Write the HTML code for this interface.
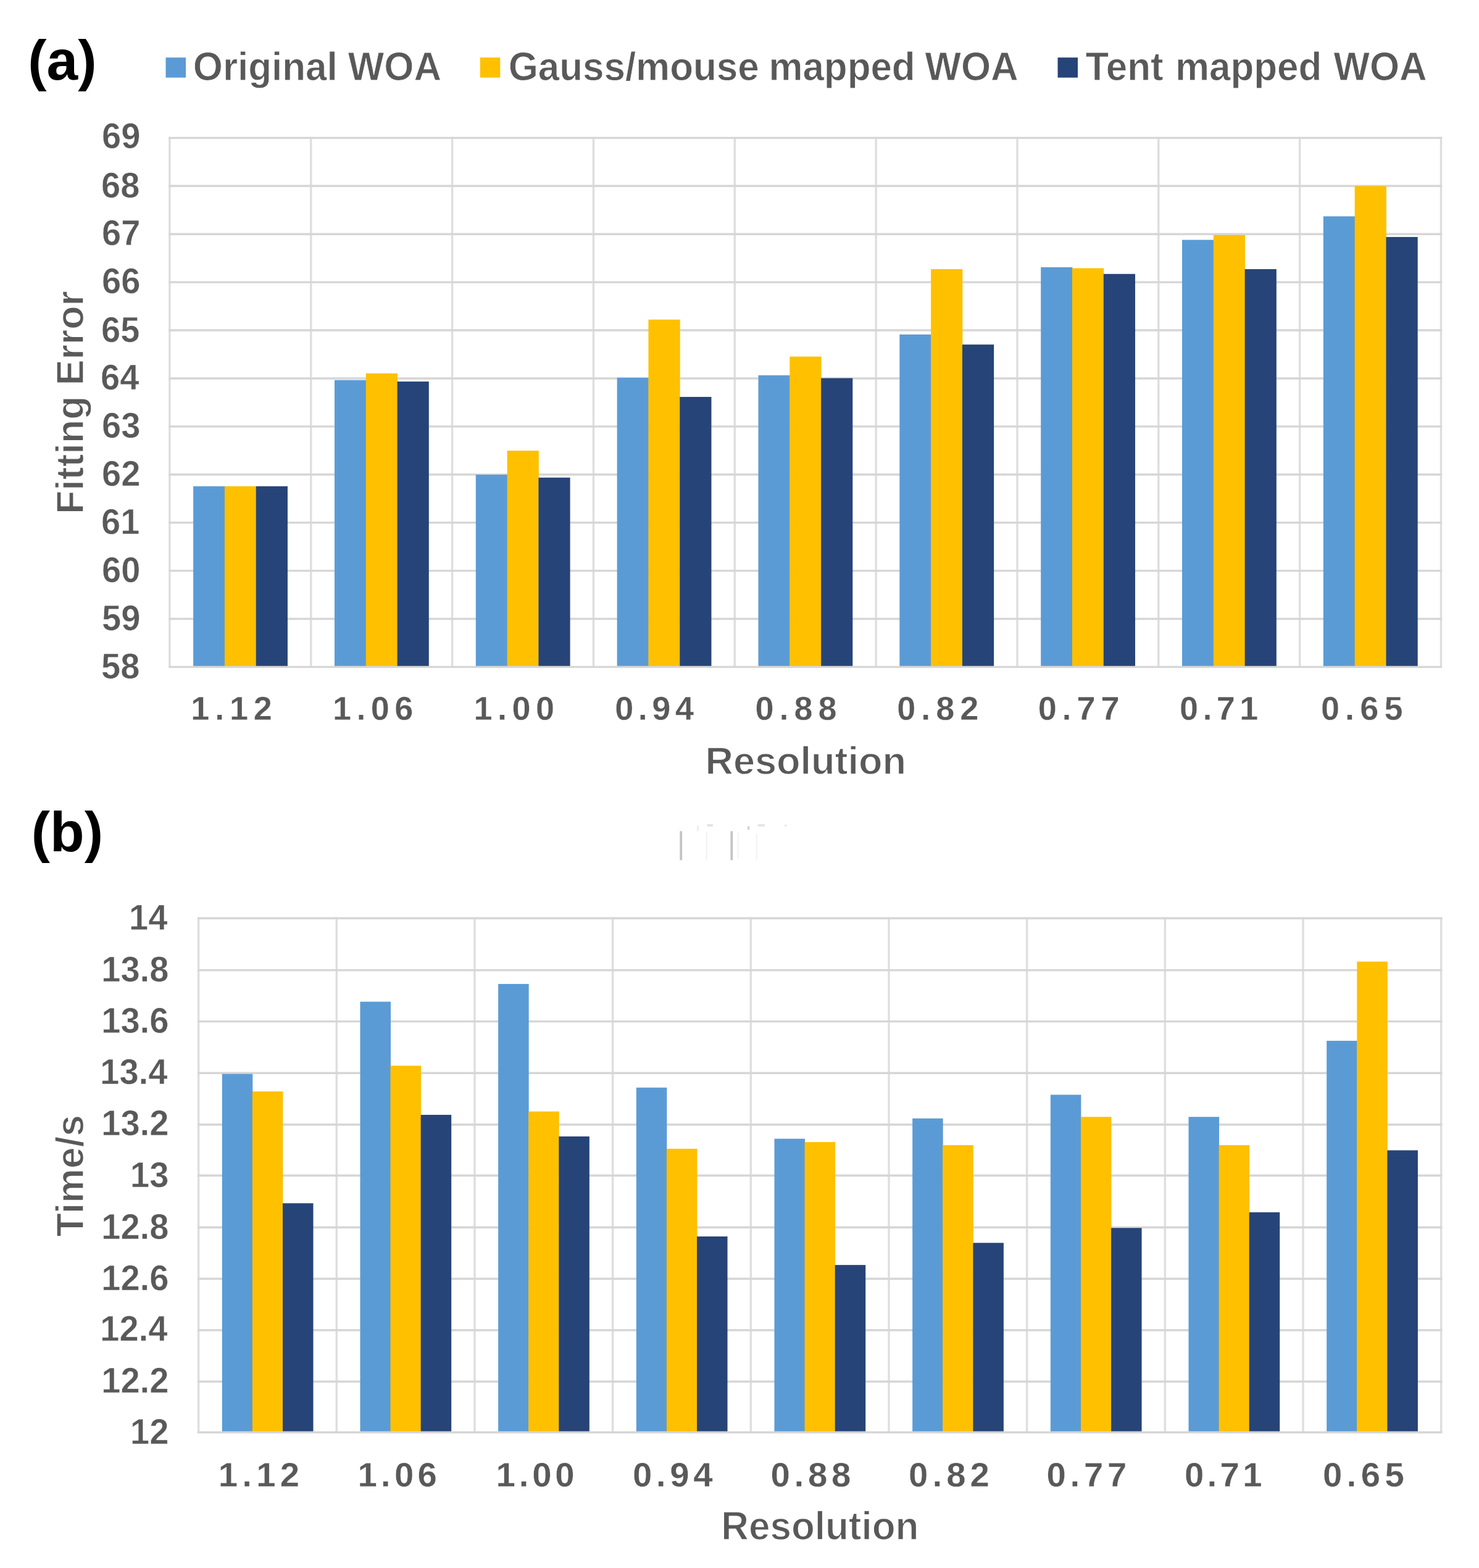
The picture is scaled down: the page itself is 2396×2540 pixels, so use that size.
<!DOCTYPE html>
<html><head><meta charset="utf-8"><style>
html,body{margin:0;padding:0;background:#fff;}
body{width:2396px;height:2540px;overflow:hidden;}
svg{display:block;}
text{font-family:"Liberation Sans",Arial,sans-serif;font-weight:bold;}
.er text{stroke:#fff;stroke-linejoin:round;}
.e1 text{stroke-width:1.3px;}.e2 text{stroke-width:0.8px;}.e3 text{stroke-width:0.5px;}.e4 text{stroke-width:0.3px;}
</style></head><body>
<svg width="2396" height="2540" viewBox="0 0 2396 2540">
<rect width="2396" height="2540" fill="#fff"/>
<text x="45.3" y="129" font-size="91" fill="#000">(a)</text>
<text x="50.8" y="1379.2" font-size="91" fill="#000">(b)</text>
<g>
<rect x="268.5" y="93.2" width="32.5" height="32.5" fill="#5B9BD5"/>
<rect x="777.8" y="93.2" width="32.5" height="32.5" fill="#FFC000"/>
<rect x="1713.5" y="93.2" width="32.5" height="32.5" fill="#264478"/>
<g class="er e2" font-size="61.9" fill="#595959">
<text transform="translate(312.8,129.6) scale(1,1.04)">Original WOA</text>
<text transform="translate(823.7,129.6) scale(1,1.04)" word-spacing="-1.4">Gauss/mouse mapped WOA</text>
<text transform="translate(1758.6,129.6) scale(1,1.04)" word-spacing="2.1">Tent mapped WOA</text>
</g>
</g>
<g stroke="#DEDEDE" stroke-width="3.4"><line x1="274.9" y1="221.7" x2="274.9" y2="1080.4"/><line x1="503.74" y1="221.7" x2="503.74" y2="1080.4"/><line x1="732.59" y1="221.7" x2="732.59" y2="1080.4"/><line x1="961.43" y1="221.7" x2="961.43" y2="1080.4"/><line x1="1190.28" y1="221.7" x2="1190.28" y2="1080.4"/><line x1="1419.12" y1="221.7" x2="1419.12" y2="1080.4"/><line x1="1647.97" y1="221.7" x2="1647.97" y2="1080.4"/><line x1="1876.81" y1="221.7" x2="1876.81" y2="1080.4"/><line x1="2105.66" y1="221.7" x2="2105.66" y2="1080.4"/><line x1="2334.5" y1="221.7" x2="2334.5" y2="1080.4"/></g><g stroke="#D6D6D6" stroke-width="3.4"><line x1="273.2" y1="1002.49" x2="2336.2" y2="1002.49"/><line x1="273.2" y1="924.58" x2="2336.2" y2="924.58"/><line x1="273.2" y1="846.67" x2="2336.2" y2="846.67"/><line x1="273.2" y1="768.76" x2="2336.2" y2="768.76"/><line x1="273.2" y1="690.85" x2="2336.2" y2="690.85"/><line x1="273.2" y1="612.95" x2="2336.2" y2="612.95"/><line x1="273.2" y1="535.04" x2="2336.2" y2="535.04"/><line x1="273.2" y1="457.13" x2="2336.2" y2="457.13"/><line x1="273.2" y1="379.22" x2="2336.2" y2="379.22"/><line x1="273.2" y1="301.31" x2="2336.2" y2="301.31"/><line x1="273.2" y1="223.4" x2="2336.2" y2="223.4"/></g><rect x="313.12" y="787.65" width="51.2" height="292.75" fill="#5B9BD5"/><rect x="363.92" y="787.65" width="51.2" height="292.75" fill="#FFC000"/><rect x="414.72" y="787.65" width="51.2" height="292.75" fill="#264478"/><rect x="541.97" y="615.71" width="51.2" height="464.69" fill="#5B9BD5"/><rect x="592.77" y="604.82" width="51.2" height="475.58" fill="#FFC000"/><rect x="643.57" y="618.05" width="51.2" height="462.35" fill="#264478"/><rect x="770.81" y="768.98" width="51.2" height="311.42" fill="#5B9BD5"/><rect x="821.61" y="730.08" width="51.2" height="350.32" fill="#FFC000"/><rect x="872.41" y="773.65" width="51.2" height="306.75" fill="#264478"/><rect x="999.66" y="611.82" width="51.2" height="468.58" fill="#5B9BD5"/><rect x="1050.46" y="517.68" width="51.2" height="562.72" fill="#FFC000"/><rect x="1101.26" y="642.94" width="51.2" height="437.46" fill="#264478"/><rect x="1228.5" y="607.93" width="51.2" height="472.47" fill="#5B9BD5"/><rect x="1279.3" y="577.59" width="51.2" height="502.81" fill="#FFC000"/><rect x="1330.1" y="612.6" width="51.2" height="467.8" fill="#264478"/><rect x="1457.34" y="541.8" width="51.2" height="538.6" fill="#5B9BD5"/><rect x="1508.14" y="435.99" width="51.2" height="644.41" fill="#FFC000"/><rect x="1558.94" y="558.14" width="51.2" height="522.26" fill="#264478"/><rect x="1686.19" y="432.88" width="51.2" height="647.52" fill="#5B9BD5"/><rect x="1736.99" y="434.44" width="51.2" height="645.96" fill="#FFC000"/><rect x="1787.79" y="443.77" width="51.2" height="636.63" fill="#264478"/><rect x="1915.03" y="388.54" width="51.2" height="691.86" fill="#5B9BD5"/><rect x="1965.83" y="380.76" width="51.2" height="699.64" fill="#FFC000"/><rect x="2016.63" y="435.99" width="51.2" height="644.41" fill="#264478"/><rect x="2143.88" y="350.41" width="51.2" height="729.99" fill="#5B9BD5"/><rect x="2194.68" y="301.4" width="51.2" height="779" fill="#FFC000"/><rect x="2245.48" y="383.87" width="51.2" height="696.53" fill="#264478"/><line x1="273.2" y1="1080.4" x2="2336.2" y2="1080.4" stroke="#D6D6D6" stroke-width="3.4"/>
<g stroke="#DEDEDE" stroke-width="3.4"><line x1="321.6" y1="1485.8" x2="321.6" y2="2320.2"/><line x1="545.28" y1="1485.8" x2="545.28" y2="2320.2"/><line x1="768.96" y1="1485.8" x2="768.96" y2="2320.2"/><line x1="992.63" y1="1485.8" x2="992.63" y2="2320.2"/><line x1="1216.31" y1="1485.8" x2="1216.31" y2="2320.2"/><line x1="1439.99" y1="1485.8" x2="1439.99" y2="2320.2"/><line x1="1663.67" y1="1485.8" x2="1663.67" y2="2320.2"/><line x1="1887.34" y1="1485.8" x2="1887.34" y2="2320.2"/><line x1="2111.02" y1="1485.8" x2="2111.02" y2="2320.2"/><line x1="2334.7" y1="1485.8" x2="2334.7" y2="2320.2"/></g><g stroke="#D6D6D6" stroke-width="3.4"><line x1="319.9" y1="2238" x2="2336.4" y2="2238"/><line x1="319.9" y1="2154.7" x2="2336.4" y2="2154.7"/><line x1="319.9" y1="2071.5" x2="2336.4" y2="2071.5"/><line x1="319.9" y1="1988.2" x2="2336.4" y2="1988.2"/><line x1="319.9" y1="1904.3" x2="2336.4" y2="1904.3"/><line x1="319.9" y1="1821.8" x2="2336.4" y2="1821.8"/><line x1="319.9" y1="1738.2" x2="2336.4" y2="1738.2"/><line x1="319.9" y1="1654.6" x2="2336.4" y2="1654.6"/><line x1="319.9" y1="1571.6" x2="2336.4" y2="1571.6"/><line x1="319.9" y1="1487.5" x2="2336.4" y2="1487.5"/></g><rect x="359.79" y="1739.68" width="49.5" height="580.52" fill="#5B9BD5"/><rect x="408.89" y="1768" width="49.5" height="552.2" fill="#FFC000"/><rect x="457.99" y="1949.18" width="49.5" height="371.02" fill="#264478"/><rect x="583.47" y="1622.65" width="49.5" height="697.55" fill="#5B9BD5"/><rect x="632.57" y="1726.35" width="49.5" height="593.85" fill="#FFC000"/><rect x="681.67" y="1805.91" width="49.5" height="514.29" fill="#264478"/><rect x="807.14" y="1593.91" width="49.5" height="726.29" fill="#5B9BD5"/><rect x="856.24" y="1800.49" width="49.5" height="519.71" fill="#FFC000"/><rect x="905.34" y="1840.89" width="49.5" height="479.31" fill="#264478"/><rect x="1030.82" y="1761.76" width="49.5" height="558.44" fill="#5B9BD5"/><rect x="1079.92" y="1860.88" width="49.5" height="459.32" fill="#FFC000"/><rect x="1129.02" y="2002.91" width="49.5" height="317.29" fill="#264478"/><rect x="1254.5" y="1844.64" width="49.5" height="475.56" fill="#5B9BD5"/><rect x="1303.6" y="1850.05" width="49.5" height="470.15" fill="#FFC000"/><rect x="1352.7" y="2049.14" width="49.5" height="271.06" fill="#264478"/><rect x="1478.18" y="1811.74" width="49.5" height="508.46" fill="#5B9BD5"/><rect x="1527.28" y="1855.05" width="49.5" height="465.15" fill="#FFC000"/><rect x="1576.38" y="2013.32" width="49.5" height="306.88" fill="#264478"/><rect x="1701.86" y="1773.42" width="49.5" height="546.78" fill="#5B9BD5"/><rect x="1750.96" y="1809.24" width="49.5" height="510.96" fill="#FFC000"/><rect x="1800.06" y="1989.17" width="49.5" height="331.03" fill="#264478"/><rect x="1925.53" y="1809.24" width="49.5" height="510.96" fill="#5B9BD5"/><rect x="1974.63" y="1855.05" width="49.5" height="465.15" fill="#FFC000"/><rect x="2023.73" y="1963.76" width="49.5" height="356.44" fill="#264478"/><rect x="2149.21" y="1685.95" width="49.5" height="634.25" fill="#5B9BD5"/><rect x="2198.31" y="1557.67" width="49.5" height="762.53" fill="#FFC000"/><rect x="2247.41" y="1863.38" width="49.5" height="456.82" fill="#264478"/><line x1="319.9" y1="2320.2" x2="2336.4" y2="2320.2" stroke="#D6D6D6" stroke-width="3.4"/>
<g class="er e3" font-size="56" fill="#595959"><text transform="translate(226.4,1099.2) scale(1,1.03)" text-anchor="end">58</text><text transform="translate(227.4,1020.89) scale(1,1.03)" text-anchor="end">59</text><text transform="translate(227.4,942.58) scale(1,1.03)" text-anchor="end">60</text><text transform="translate(226.4,865.07) scale(1,1.03)" text-anchor="end">61</text><text transform="translate(227.4,787.16) scale(1,1.03)" text-anchor="end">62</text><text transform="translate(227.4,709.45) scale(1,1.03)" text-anchor="end">63</text><text transform="translate(225.4,630.55) scale(1,1.03)" text-anchor="end">64</text><text transform="translate(226.4,553.84) scale(1,1.03)" text-anchor="end">65</text><text transform="translate(227.4,475.43) scale(1,1.03)" text-anchor="end">66</text><text transform="translate(227.4,396.72) scale(1,1.03)" text-anchor="end">67</text><text transform="translate(226.4,320.11) scale(1,1.03)" text-anchor="end">68</text><text transform="translate(227.4,240.4) scale(1,1.03)" text-anchor="end">69</text><text transform="translate(273.3,2338.9) scale(1,1.03)" text-anchor="end">12</text><text transform="translate(273.3,2255.7) scale(1,1.03)" text-anchor="end">12.2</text><text transform="translate(271.3,2172.1) scale(1,1.03)" text-anchor="end">12.4</text><text transform="translate(273.3,2089.5) scale(1,1.03)" text-anchor="end">12.6</text><text transform="translate(273.3,2006.9) scale(1,1.03)" text-anchor="end">12.8</text><text transform="translate(273.3,1922.5) scale(1,1.03)" text-anchor="end">13</text><text transform="translate(273.3,1838.5) scale(1,1.03)" text-anchor="end">13.2</text><text transform="translate(271.3,1755.9) scale(1,1.03)" text-anchor="end">13.4</text><text transform="translate(273.3,1672.5) scale(1,1.03)" text-anchor="end">13.6</text><text transform="translate(273.3,1589.6) scale(1,1.03)" text-anchor="end">13.8</text><text transform="translate(271.3,1505.8) scale(1,1.03)" text-anchor="end">14</text></g>
<g class="er e4" font-size="54" fill="#595959"><text x="379.51" y="1166" text-anchor="middle" letter-spacing="8.8">1.12</text><text x="608.36" y="1166" text-anchor="middle" letter-spacing="8.44">1.06</text><text x="837.11" y="1166" text-anchor="middle" letter-spacing="8.5">1.00</text><text x="1063.89" y="1166" text-anchor="middle" letter-spacing="7.6">0.94</text><text x="1293.99" y="1166" text-anchor="middle" letter-spacing="8.92">0.88</text><text x="1523.73" y="1166" text-anchor="middle" letter-spacing="8.92">0.82</text><text x="1752.04" y="1166" text-anchor="middle" letter-spacing="8.92">0.77</text><text x="1978.36" y="1166" text-anchor="middle" letter-spacing="7.36">0.71</text><text x="2210.81" y="1166" text-anchor="middle" letter-spacing="9.16">0.65</text><text x="423" y="2407.8" text-anchor="middle" letter-spacing="7.24" font-size="56.3">1.12</text><text x="646.77" y="2407.8" text-anchor="middle" letter-spacing="6.22" font-size="56.3">1.06</text><text x="869.99" y="2407.8" text-anchor="middle" letter-spacing="5.8" font-size="56.3">1.00</text><text x="1093.13" y="2407.8" text-anchor="middle" letter-spacing="6.64" font-size="56.3">0.94</text><text x="1316.72" y="2407.8" text-anchor="middle" letter-spacing="6.7" font-size="56.3">0.88</text><text x="1541.03" y="2407.8" text-anchor="middle" letter-spacing="7.12" font-size="56.3">0.82</text><text x="1763.81" y="2407.8" text-anchor="middle" letter-spacing="6.76" font-size="56.3">0.77</text><text x="1984.42" y="2407.8" text-anchor="middle" letter-spacing="5.32" font-size="56.3">0.71</text><text x="2212.51" y="2407.8" text-anchor="middle" letter-spacing="7.42" font-size="56.3">0.65</text></g>
<g class="er e1" font-size="62" fill="#595959">
<text x="1305.3" y="1254" text-anchor="middle" font-size="63">Resolution</text>
<text transform="translate(1328.3,2493.7) scale(1,1.045)" text-anchor="middle">Resolution</text>
<text transform="translate(134.6,652) rotate(-90)" text-anchor="middle" font-size="62.6">Fitting Error</text>
<text transform="translate(134.6,1904.6) rotate(-90)" text-anchor="middle" font-size="62.6">Time/s</text>
</g>
<g fill="#c4c4c4">
<rect x="1101.3" y="1346.4" width="3.8" height="47"/>
<rect x="1183.4" y="1346.4" width="3.8" height="47"/>
</g>
<g>
<rect x="1143.6" y="1347.4" width="2.2" height="46" fill="#f2f2f2"/>
<rect x="1194.4" y="1349" width="2.5" height="42" fill="#f5f5f5"/>
<rect x="1224.6" y="1350" width="2.3" height="43" fill="#f4f4f4"/>
<rect x="1145.5" y="1335.2" width="9.5" height="3.6" fill="#e2e2e2"/>
<rect x="1227.6" y="1335.2" width="11.5" height="3.6" fill="#e4e4e4"/>
<rect x="1211" y="1338.4" width="3.2" height="5.8" fill="#d2d2d2"/>
<rect x="1270.8" y="1335.6" width="3.7" height="3.3" fill="#ebebeb"/>
<rect x="1129" y="1337.8" width="3" height="8.5" fill="#eeeeee"/>
</g>
</svg>
</body></html>
